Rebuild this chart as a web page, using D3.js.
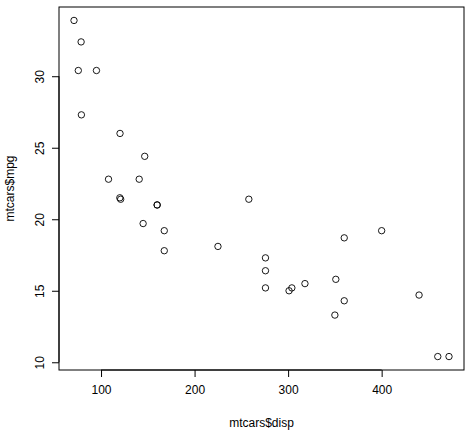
<!DOCTYPE html>
<html><head><meta charset="utf-8">
<script src="https://cdn.jsdelivr.net/npm/d3@7"></script>
<style>body{margin:0;background:#fff}text{font-family:"Liberation Sans",Arial,sans-serif;font-size:12px;fill:#000}</style>
</head><body>
<script>
const disp=[160,160,108,258,360,225,360,146.7,140.8,167.6,167.6,275.8,275.8,275.8,472,460,440,78.7,75.7,71.1,120.1,318,304,350,400,79,120.3,95.1,351,145,301,121];
const mpg=[21,21,22.8,21.4,18.7,18.1,14.3,24.4,22.8,19.2,17.8,16.4,17.3,15.2,10.4,10.4,14.7,32.4,30.4,33.9,21.5,15.5,15.2,13.3,19.2,27.3,26,30.4,15.8,19.7,15,21.4];
const xTicks=[100,200,300,400], yTicks=[10,15,20,25,30];
const W=474,H=437,L=59,R=464,T=7,B=370;
const svg=d3.select("body").append("svg").attr("width",W).attr("height",H);
const x=d3.scaleLinear().domain([71.1-16.036,472+16.036]).range([L,R]);
const y=d3.scaleLinear().domain([10.4-0.94,33.9+0.94]).range([B,T]);
svg.append("rect").attr("x",L).attr("y",T).attr("width",R-L).attr("height",B-T).attr("fill","none").attr("stroke","#000");
const xa=svg.append("g").attr("transform",`translate(0,${B})`).call(d3.axisBottom(x).tickValues(xTicks).tickSize(7).tickPadding(8));
const ya=svg.append("g").attr("transform",`translate(${L},0)`).call(d3.axisLeft(y).tickValues(yTicks).tickSize(7).tickPadding(8));
[xa,ya].forEach(a=>{a.select(".domain").attr("d",null);a.selectAll("text").style("font-size","12px");});
xa.append("path").attr("d",`M${x(100)},0H${x(400)}`).attr("stroke","#000");
ya.append("path").attr("d",`M0,${y(10)}V${y(30)}`).attr("stroke","#000");
ya.selectAll(".tick text").attr("transform",function(){const t=d3.select(this);return `rotate(-90,${t.attr("x")},0)`}).attr("text-anchor","middle").attr("dy","0").attr("x",-9).attr("y",0).attr("transform","rotate(-90) translate(0,-7)");
ya.selectAll(".tick text").each(function(){d3.select(this).attr("x",null).attr("transform","translate(-19,0) rotate(-90)").attr("dy","0.35em")});
svg.selectAll("circle").data(disp).join("circle").attr("cx",d=>x(d)).attr("cy",(d,i)=>y(mpg[i])).attr("r",3.2).attr("fill","none").attr("stroke","#000").attr("stroke-width",0.9);
svg.append("text").attr("x",(L+R)/2).attr("y",427).attr("text-anchor","middle").text("mtcars$disp");
svg.append("text").attr("transform",`translate(14,${(T+B)/2}) rotate(-90)`).attr("text-anchor","middle").text("mtcars$mpg");
</script>
</body></html>
